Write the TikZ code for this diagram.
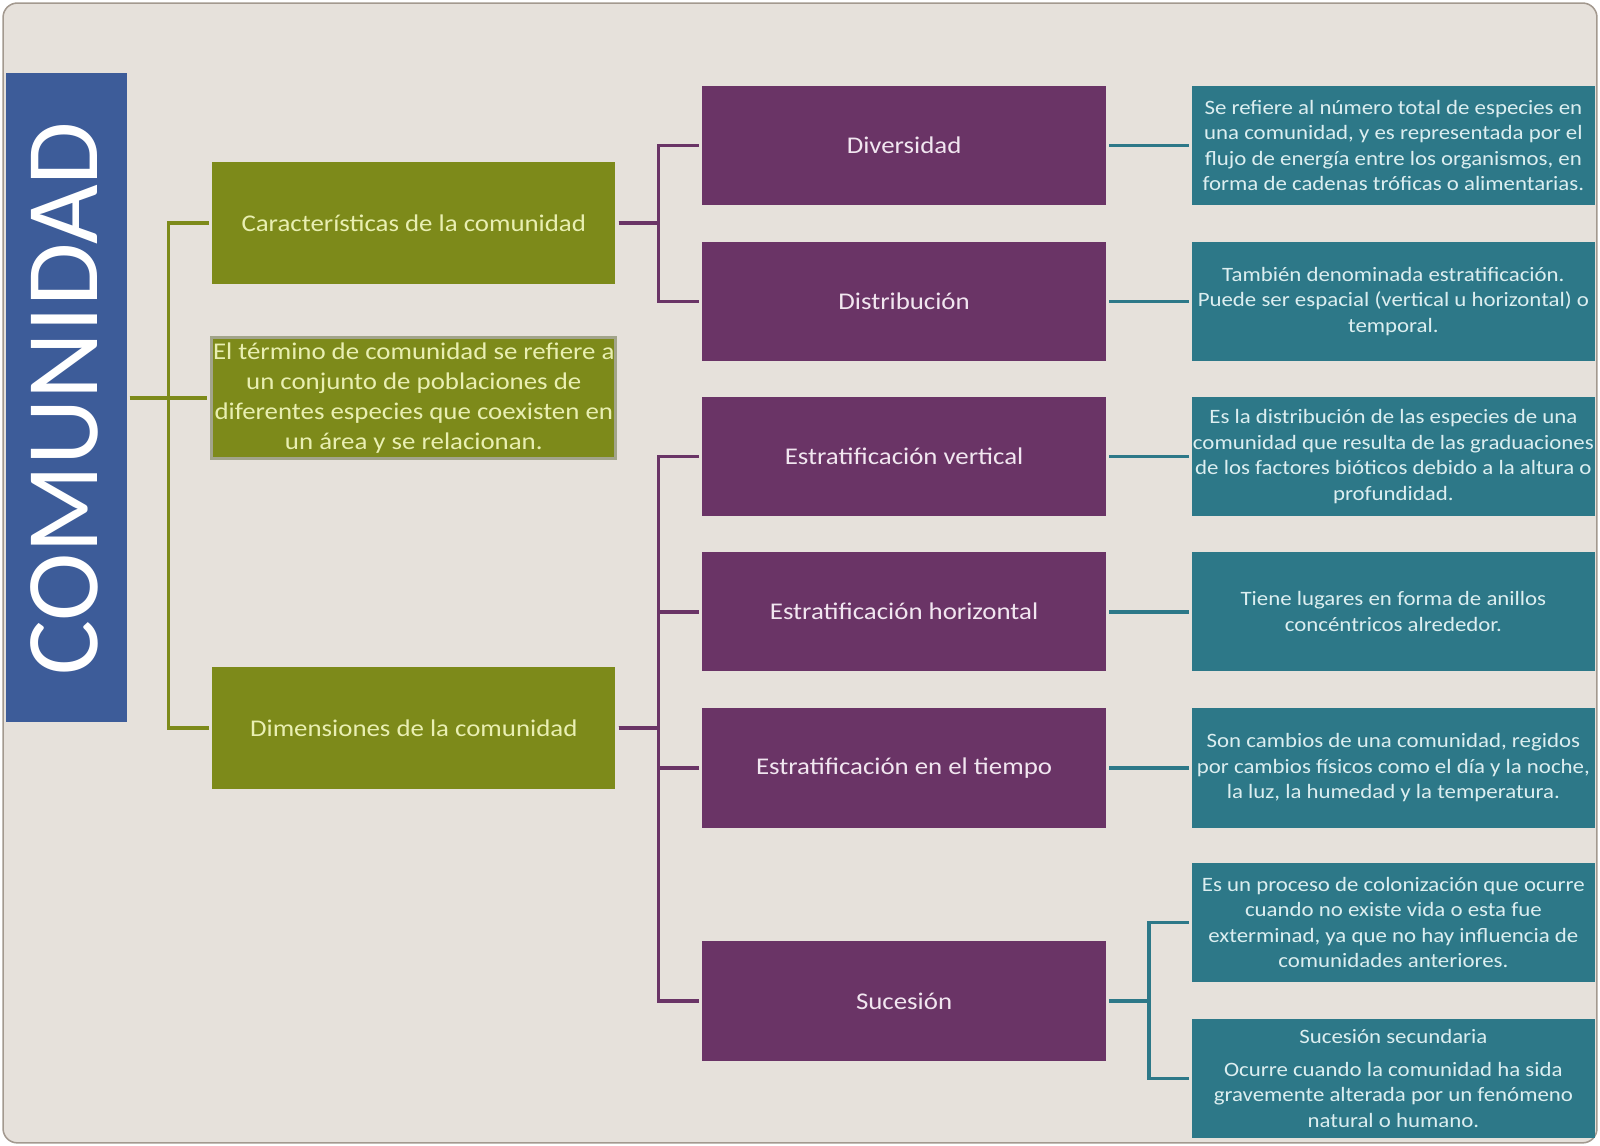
\documentclass[tikz,border=0pt]{standalone}
\usepackage{fontspec}
\setmainfont{Carlito}[FakeStretch=1.12]
\newfontfamily\titulofont{Carlito}
\definecolor{fondo}{HTML}{E6E1DB}
\definecolor{marco}{HTML}{A3998F}
\definecolor{azul}{HTML}{3D5C99}
\definecolor{oliva}{HTML}{7D8A1A}
\definecolor{amarillo}{HTML}{E9EFB2}
\definecolor{gris}{HTML}{A2A48A}
\definecolor{morado}{HTML}{6A3466}
\definecolor{rosado}{HTML}{F1E6F0}
\definecolor{verdeazul}{HTML}{2D7888}
\definecolor{celeste}{HTML}{DCEEF0}
\tikzstyle{titulo}=[fill=azul,text=white,minimum width=118pt,minimum height=636pt,inner sep=0pt]
\tikzstyle{rama}=[fill=oliva,text=amarillo,minimum width=395pt,minimum height=119pt,inner sep=0pt,align=center,font=\fontsize{23.5}{29.5}\selectfont]
\tikzstyle{tema}=[fill=morado,text=rosado,minimum width=396pt,minimum height=117pt,inner sep=0pt,font=\fontsize{23.5}{28}\selectfont]
\tikzstyle{detalle}=[fill=verdeazul,text=celeste,minimum width=395pt,minimum height=117pt,inner sep=0pt,align=center,font=\fontsize{20}{25}\selectfont]
\tikzstyle{lazo} = [draw,line width=3.5pt,shorten <=3pt,shorten >=3pt]

\begin{document}
\begin{tikzpicture}[x=1pt,y=-1pt]
    % fondo
    \useasboundingbox (0,0) rectangle (1568,1123);
    \draw[marco,fill=fondo,line width=1.5pt,rounded corners=14pt] (3,3) rectangle (1565,1120);
    % titulo
    \node[titulo] (com) at (65,390) {};
    \node[text=white,rotate=90,font=\titulofont\fontsize{101}{101}\selectfont] (comtxt) at (63,391) {COMUNIDAD};
    % ramas
    \node[rama] (car) at (405.5,218.5) {Características de la comunidad};
    \node[rama,draw=gris,line width=3pt,minimum width=396pt,minimum height=119pt] (ter) at (405.5,390)
        {El término de comunidad se refiere a\\un conjunto de poblaciones de\\diferentes especies que coexisten en\\un área y se relacionan.};
    \node[rama] (dim) at (405.5,713.5) {Dimensiones de la comunidad};
    % temas
    \foreach \pos/\name/\texto in {{(886,142.5)/div/Diversidad}, {(886,295.5)/dis/Distribución},
        {(886,447.5)/ver/Estratificación vertical}, {(886,599.5)/hor/Estratificación horizontal},
        {(886,752.5)/tie/Estratificación en el tiempo}, {(886,981)/suc/Sucesión}}
        \node[tema] (\name) at \pos {\texto};
    % detalles
    \foreach \pos/\name/\texto in {
        {(1365.5,142.5)/d1/{Se refiere al número total de especies en\\una comunidad, y es representada por el\\flujo de energía entre los organismos, en\\forma de cadenas tróficas o alimentarias.}},
        {(1365.5,295.5)/d2/{También denominada estratificación.\\Puede ser espacial (vertical u horizontal) o\\temporal.}},
        {(1365.5,447.5)/d3/{Es la distribución de las especies de una\\comunidad que resulta de las graduaciones\\de los factores bióticos debido a la altura o\\profundidad.}},
        {(1365.5,599.5)/d4/{Tiene lugares en forma de anillos\\concéntricos alrededor.}},
        {(1365.5,752.5)/d5/{Son cambios de una comunidad, regidos\\por cambios físicos como el día y la noche,\\la luz, la humedad y la temperatura.}},
        {(1365.5,904)/d6/{Es un proceso de colonización que ocurre\\cuando no existe vida o esta fue\\exterminad, ya que no hay influencia de\\comunidades anteriores.}},
        {(1365.5,1057)/d7/{Sucesión secundaria\\[7pt]Ocurre cuando la comunidad ha sida\\gravemente alterada por un fenómeno\\natural o humano.}}}
        \node[detalle] (\name) at \pos {\texto};
    % lazos
    \path[lazo,oliva] (com.east) -- (ter.west);
    \foreach \dest in {car, dim}
        \path[lazo,oliva] (com.east) -- ++(41,0) |- (\dest.west);
    \foreach \dest in {div, dis}
        \path[lazo,morado] (car.east) -- ++(42,0) |- (\dest.west);
    \foreach \dest in {ver, hor, tie, suc}
        \path[lazo,morado] (dim.east) -- ++(42,0) |- (\dest.west);
    \foreach \source/\dest in {div/d1, dis/d2, ver/d3, hor/d4, tie/d5}
        \path[lazo,verdeazul] (\source.east) -- (\dest.west);
    \foreach \dest in {d6, d7}
        \path[lazo,verdeazul] (suc.east) -- ++(42,0) |- (\dest.west);
\end{tikzpicture}
\end{document}
